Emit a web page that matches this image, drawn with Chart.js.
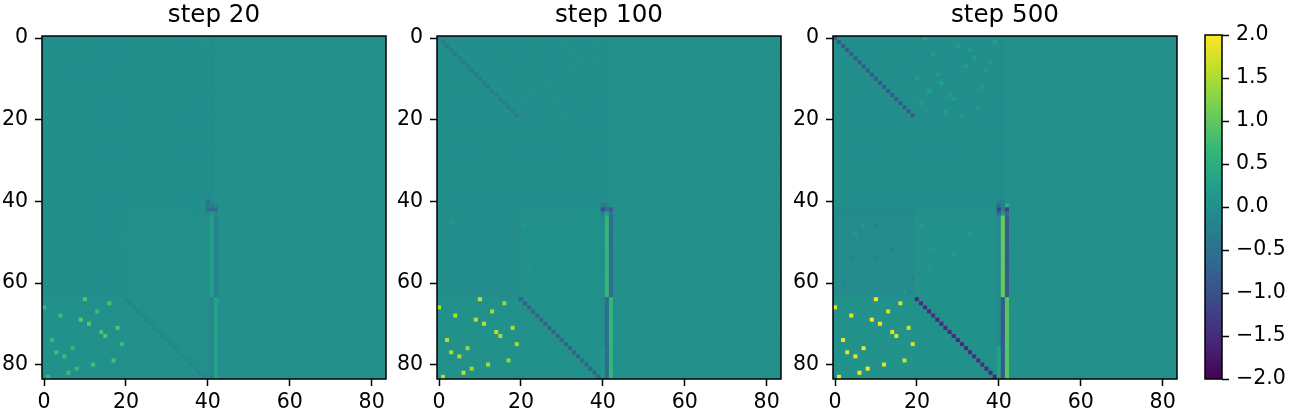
<!DOCTYPE html>
<html lang="en">
<head>
  <meta charset="UTF-8">
  <title>Matrix at steps 20, 100, 500</title>
  <script src="https://cdn.jsdelivr.net/npm/chart.js"></script>
  <style>
    html, body { margin: 0; padding: 0; background: #fff; }
    #wrap { position: relative; width: 1290px; height: 413px; overflow: hidden; }
    .box { position: absolute; top: 0; height: 413px; }
  </style>
</head>
<body>
  <div id="wrap">
    <div class="box" style="left:0;width:392px"><canvas id="panel0"></canvas></div>
    <div class="box" style="left:395px;width:392px"><canvas id="panel1"></canvas></div>
    <div class="box" style="left:791px;width:392px"><canvas id="panel2"></canvas></div>
    <div class="box" style="left:1160px;width:130px"><canvas id="colorbar"></canvas></div>
  </div>

  <script>
    // ---- data ----
    const stepTitles = ['step 20', 'step 100', 'step 500'];
    const matrixSize = 84;
    const axisTicks = [0, 20, 40, 60, 80];
    const colorbarTicks = [-2, -1.5, -1, -0.5, 0, 0.5, 1, 1.5, 2];

    // bright cells bottom left: rows 64..83
    const lowerSpikeCols = [10, 16, 0, 13, 4, 9, 11, 18, 14, 15, 2, 19, 7, 3, 5, 17, 12, 8, 6, 1];
    const lowerSpikes20 = [0.9, 0.85, 0.7, 0.7, 0.75, 1.0, 0.95, 0.9, 0.85, 0.9, 0.7, 0.75, 0.7, 0.8, 0.75, 0.85, 0.85, 0.7, 0.75, 0.7];
    const lowerSpikes100 = [1.65, 1.4, 1.55, 1.5, 1.55, 1.55, 1.55, 1.45, 1.55, 1.5, 1.55, 1.45, 1.4, 1.5, 1.55, 1.35, 1.45, 1.4, 1.6, 1.55];
    const lowerSpikes500 = [1.95, 1.8, 1.9, 1.75, 1.9, 1.95, 1.9, 1.65, 1.8, 1.75, 1.9, 1.75, 1.95, 1.85, 1.9, 1.7, 1.8, 1.9, 1.95, 1.9];

    // faint cells top right: rows 0..19
    const upperSpikeCols = [22, 39, 30, 33, 24, 34, 38, 32, 37, 25, 20, 26, 36, 23, 28, 29, 21, 35, 27, 31];
    const upperSpike = [0.0, 0.03, 0.25];

    // diagonals: top left (row = col, rows 0..19), bottom (rows 64..83, cols 20..39)
    const upperDiagonal = [-0.07, -0.35, -0.85];
    const lowerDiagonal = [-0.15, -0.75, -1.5];

    // columns 41 and 42, rows 44..63 then rows 64..83
    const col41Upper = [0.25, 0.65, 1.05];
    const col42Upper = [-0.25, -0.6, -0.85];
    const col41Lower = [-0.15, -0.6, -0.9];
    const col42Lower = [0.3, 0.65, 0.95];

    // flat regions [rowFrom, rowTo, colFrom, colTo, value at each step]
    const regions = [
      [0, 42, 0, 40, [-0.01, -0.01, -0.01]],
      [0, 39, 41, 41, [-0.07, -0.02, -0.05]],
      [43, 63, 0, 19, [-0.01, -0.03, -0.07]],
      [43, 63, 20, 40, [0.0, 0.015, 0.03]],
      [64, 83, 0, 19, [0.01, 0.02, 0.03]],
      [64, 83, 20, 40, [0.0, 0.01, 0.02]],
      [42, 42, 0, 19, [-0.03, -0.05, -0.1]],
      [44, 75, 40, 40, [-0.03, -0.05, -0.1]],
      [76, 83, 40, 40, [-0.02, 0.1, 0.3]]
    ];

    // single cells that stand out [row, col, value at each step], null = leave as is
    const notedCells = [
      [40, 40, [-0.5, -0.05, -0.25]],
      [40, 41, [-0.1, -0.1, -0.2]],
      [41, 40, [-0.3, -0.3, -0.55]],
      [41, 41, [-0.25, -0.3, -0.3]],
      [41, 42, [-0.1, -0.05, 0.5]],
      [42, 40, [-0.6, -1.1, -1.2]],
      [42, 41, [-0.6, -0.6, -0.35]],
      [42, 42, [-0.6, -0.75, -1.2]],
      [43, 40, [-0.1, -0.2, -0.6]],
      [43, 41, [0.1, 0.3, 0.1]],
      [43, 42, [-0.1, -0.4, -0.6]],
      [46, 21, [null, 0.15, 0.2]],
      [45, 20, [null, null, 0.15]],
      [48, 5, [null, null, 0.12]],
      [46, 7, [null, null, 0.12]],
      [52, 24, [null, null, 0.2]],
      [56, 23, [null, null, 0.18]],
      [57, 22, [null, 0.15, null]],
      [53, 29, [null, null, 0.18]],
      [48, 33, [null, null, 0.18]],
      [62, 17, [null, null, 0.12]],
      [45, 3, [null, 0.12, null]],
      [46, 10, [null, null, -0.2]],
      [52, 14, [null, null, -0.2]],
      [59, 19, [null, null, -0.2]],
      [60, 2, [null, null, -0.18]],
      [54, 4, [null, null, -0.18]],
      [54, 10, [null, null, -0.18]]
    ];

    const viridisStops = ['#440154', '#482878', '#3e4989', '#31688e', '#26828e', '#1f9e89', '#35b779', '#6ece58', '#b5de2b', '#fde725'];

    // ---- helpers ----
    function hexToRgb(hex) {
      return [1, 3, 5].map(i => parseInt(hex.slice(i, i + 2), 16));
    }

    function viridis(value) {
      const t = Math.min(1, Math.max(0, (value + 2) / 4)) * (viridisStops.length - 1);
      const i = Math.min(viridisStops.length - 2, Math.floor(t));
      const a = hexToRgb(viridisStops[i]);
      const b = hexToRgb(viridisStops[i + 1]);
      const c = a.map((v, k) => Math.round(v + (b[k] - v) * (t - i)));
      return `rgb(${c[0]},${c[1]},${c[2]})`;
    }

    function buildMatrix(step) {
      const m = [];
      for (let r = 0; r < matrixSize; r++) m.push(new Array(matrixSize).fill(0));
      regions.forEach(([r0, r1, c0, c1, vals]) => {
        for (let r = r0; r <= r1; r++) {
          for (let c = c0; c <= c1; c++) m[r][c] = vals[step];
        }
      });
      const lower = [lowerSpikes20, lowerSpikes100, lowerSpikes500][step];
      for (let i = 0; i < 20; i++) {
        m[64 + i][lowerSpikeCols[i]] = lower[i];
        m[i][upperSpikeCols[i]] = upperSpike[step];
        m[i][i] = upperDiagonal[step];
        m[64 + i][20 + i] = lowerDiagonal[step];
        m[44 + i][41] = col41Upper[step];
        m[44 + i][42] = col42Upper[step];
        m[64 + i][41] = col41Lower[step];
        m[64 + i][42] = col42Lower[step];
      }
      notedCells.forEach(([r, c, vals]) => {
        if (vals[step] !== null) m[r][c] = vals[step];
      });
      return m;
    }

    function matrixPoints(m) {
      const pts = [];
      m.forEach((row, r) => row.forEach((v, c) => pts.push({ x: c, y: r, v: v })));
      return pts;
    }

    // box round the plot area, like matplotlib spines
    const frame = {
      id: 'frame',
      afterDraw(chart) {
        const a = chart.chartArea;
        const ctx = chart.ctx;
        ctx.save();
        ctx.strokeStyle = '#000';
        ctx.lineWidth = 1.5;
        ctx.strokeRect(a.left, a.top, a.right - a.left, a.bottom - a.top);
        ctx.restore();
      }
    };

    // zero-colour backing so the antialiased cell edges don't let white through
    const backing = {
      id: 'backing',
      beforeDatasetsDraw(chart) {
        const a = chart.chartArea;
        chart.ctx.save();
        chart.ctx.fillStyle = viridis(0);
        chart.ctx.fillRect(a.left, a.top, a.right - a.left, a.bottom - a.top);
        chart.ctx.restore();
      }
    };

    const tickFont = { family: 'DejaVu Sans', size: 20.5 };
    const tickGrid = { drawOnChartArea: false, drawTicks: true, tickLength: 7, tickWidth: 1.5, tickColor: '#000' };

    function fixedTicks(values) {
      return s => { s.ticks = values.map(v => ({ value: v })); };
    }

    function makePanel(step) {
      new Chart(document.getElementById('panel' + step), {
        type: 'scatter',
        data: {
          datasets: [{
            data: matrixPoints(buildMatrix(step)),
            pointStyle: 'rect',
            pointRadius: 3.05,
            pointBorderWidth: 0,
            backgroundColor: c => viridis(c.raw.v)
          }]
        },
        plugins: [backing, frame],
        options: {
          responsive: true,
          maintainAspectRatio: false,
          animation: false,
          events: [],
          parsing: false,
          layout: { padding: { right: 6 } },
          plugins: {
            legend: { display: false },
            tooltip: { enabled: false },
            title: {
              display: true,
              fullSize: false,
              text: stepTitles[step],
              color: '#000',
              font: { family: 'DejaVu Sans', size: 24.6, weight: 'normal' },
              padding: { top: 1, bottom: 5.5 }
            }
          },
          scales: {
            x: {
              type: 'linear',
              min: -0.5,
              max: 83.5,
              afterBuildTicks: fixedTicks(axisTicks),
              afterFit: s => { s.height = 34; },
              border: { display: false },
              grid: tickGrid,
              ticks: { color: '#000', font: tickFont, padding: 4, maxRotation: 0, autoSkip: false }
            },
            y: {
              type: 'linear',
              reverse: true,
              min: -0.5,
              max: 83.5,
              afterBuildTicks: fixedTicks(axisTicks),
              afterFit: s => { s.width = 42; },
              border: { display: false },
              grid: tickGrid,
              ticks: { color: '#000', font: tickFont, padding: 7, autoSkip: false }
            }
          }
        }
      });
    }

    [0, 1, 2].forEach(makePanel);

    // colorbar is one floating bar from -2 to 2 filled with the colormap
    new Chart(document.getElementById('colorbar'), {
      type: 'bar',
      data: {
        labels: ['v'],
        datasets: [{
          data: [[-2, 2]],
          barPercentage: 1,
          categoryPercentage: 1,
          backgroundColor: c => {
            const a = c.chart.chartArea;
            if (!a) return viridisStops[0];
            const g = c.chart.ctx.createLinearGradient(0, a.bottom, 0, a.top);
            viridisStops.forEach((col, i) => g.addColorStop(i / (viridisStops.length - 1), col));
            return g;
          }
        }]
      },
      plugins: [frame],
      options: {
        responsive: true,
        maintainAspectRatio: false,
        animation: false,
        events: [],
        layout: { padding: { left: 45, top: 35, bottom: 34 } },
        plugins: { legend: { display: false }, tooltip: { enabled: false } },
        scales: {
          x: { display: false },
          y: {
            position: 'right',
            min: -2,
            max: 2,
            afterBuildTicks: fixedTicks(colorbarTicks),
            afterFit: s => { s.width = 68; },
            border: { display: false },
            grid: tickGrid,
            ticks: {
              color: '#000',
              font: tickFont,
              padding: 7,
              autoSkip: false,
              callback: v => v.toFixed(1).replace('-', '\u2212')
            }
          }
        }
      }
    });
  </script>
</body>
</html>
